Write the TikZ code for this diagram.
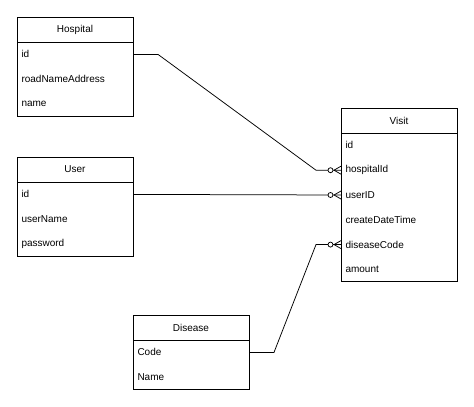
\documentclass[tikz,border=0pt]{standalone}
\usepackage{fontspec}
\setmainfont{Liberation Sans}
\usetikzlibrary{positioning}

\tikzset{
    entityhead/.style={draw, minimum width=116pt, minimum height=25pt, inner sep=0pt, outer sep=0pt},
    entityrow/.style={minimum height=24.8pt, text width=107pt, inner sep=4.5pt, outer sep=0pt, align=left},
    link/.style={line width=0.75pt}
}

\begin{document}
\begin{tikzpicture}[x=1pt, y=-1pt, line width=0.75pt]

    \useasboundingbox (0,0) rectangle (474,407);

    % Hospital table
    \node[entityhead] (hosp) at (75,29.5) {Hospital};
    \node[entityrow, below=0pt of hosp] (hospid) {id};
    \node[entityrow, below=0pt of hospid] (hospaddr) {roadNameAddress};
    \node[entityrow, below=0pt of hospaddr] (hospname) {name};
    \draw (hosp.north west) rectangle (hospname.south east);

    % User table
    \node[entityhead] (user) at (75,169.5) {User};
    \node[entityrow, below=0pt of user] (userid) {id};
    \node[entityrow, below=0pt of userid] (username) {userName};
    \node[entityrow, below=0pt of username] (userpw) {password};
    \draw (user.north west) rectangle (userpw.south east);

    % Disease table
    \node[entityhead] (dis) at (191,327.5) {Disease};
    \node[entityrow, below=0pt of dis] (discode) {Code};
    \node[entityrow, below=0pt of discode] (disname) {Name};
    \draw (dis.north west) rectangle (disname.south east);

    % Visit table
    \node[entityhead] (visit) at (399,120.5) {Visit};
    \node[entityrow, below=0pt of visit] (vid) {id};
    \node[entityrow, below=0pt of vid] (vhosp) {hospitalId};
    \node[entityrow, below=0pt of vhosp] (vuser) {userID};
    \node[entityrow, below=0pt of vuser] (vdate) {createDateTime};
    \node[entityrow, below=0pt of vdate] (vdis) {diseaseCode};
    \node[entityrow, below=0pt of vdis] (vamount) {amount};
    \draw (visit.north west) rectangle (vamount.south east);

    % Relations
    \draw[link] (hospid.east) -- ++(25,0) -- ([xshift=-25pt]vhosp.west) -- (vhosp.west);
    \draw[link] (userid.east) -- (vuser.west);
    \draw[link] (discode.east) -- ++(25,0) -- ([xshift=-25pt]vdis.west) -- (vdis.west);

    % Zero-or-many ends at Visit
    \foreach \f in {vhosp,vuser,vdis} {
        \draw[link] ([xshift=-7pt]\f.west) -- ++(7,4) ([xshift=-7pt]\f.west) -- ++(7,-4);
        \draw[link, fill=white] ([xshift=-10.5pt]\f.west) circle (2.5);
    }

\end{tikzpicture}
\end{document}
